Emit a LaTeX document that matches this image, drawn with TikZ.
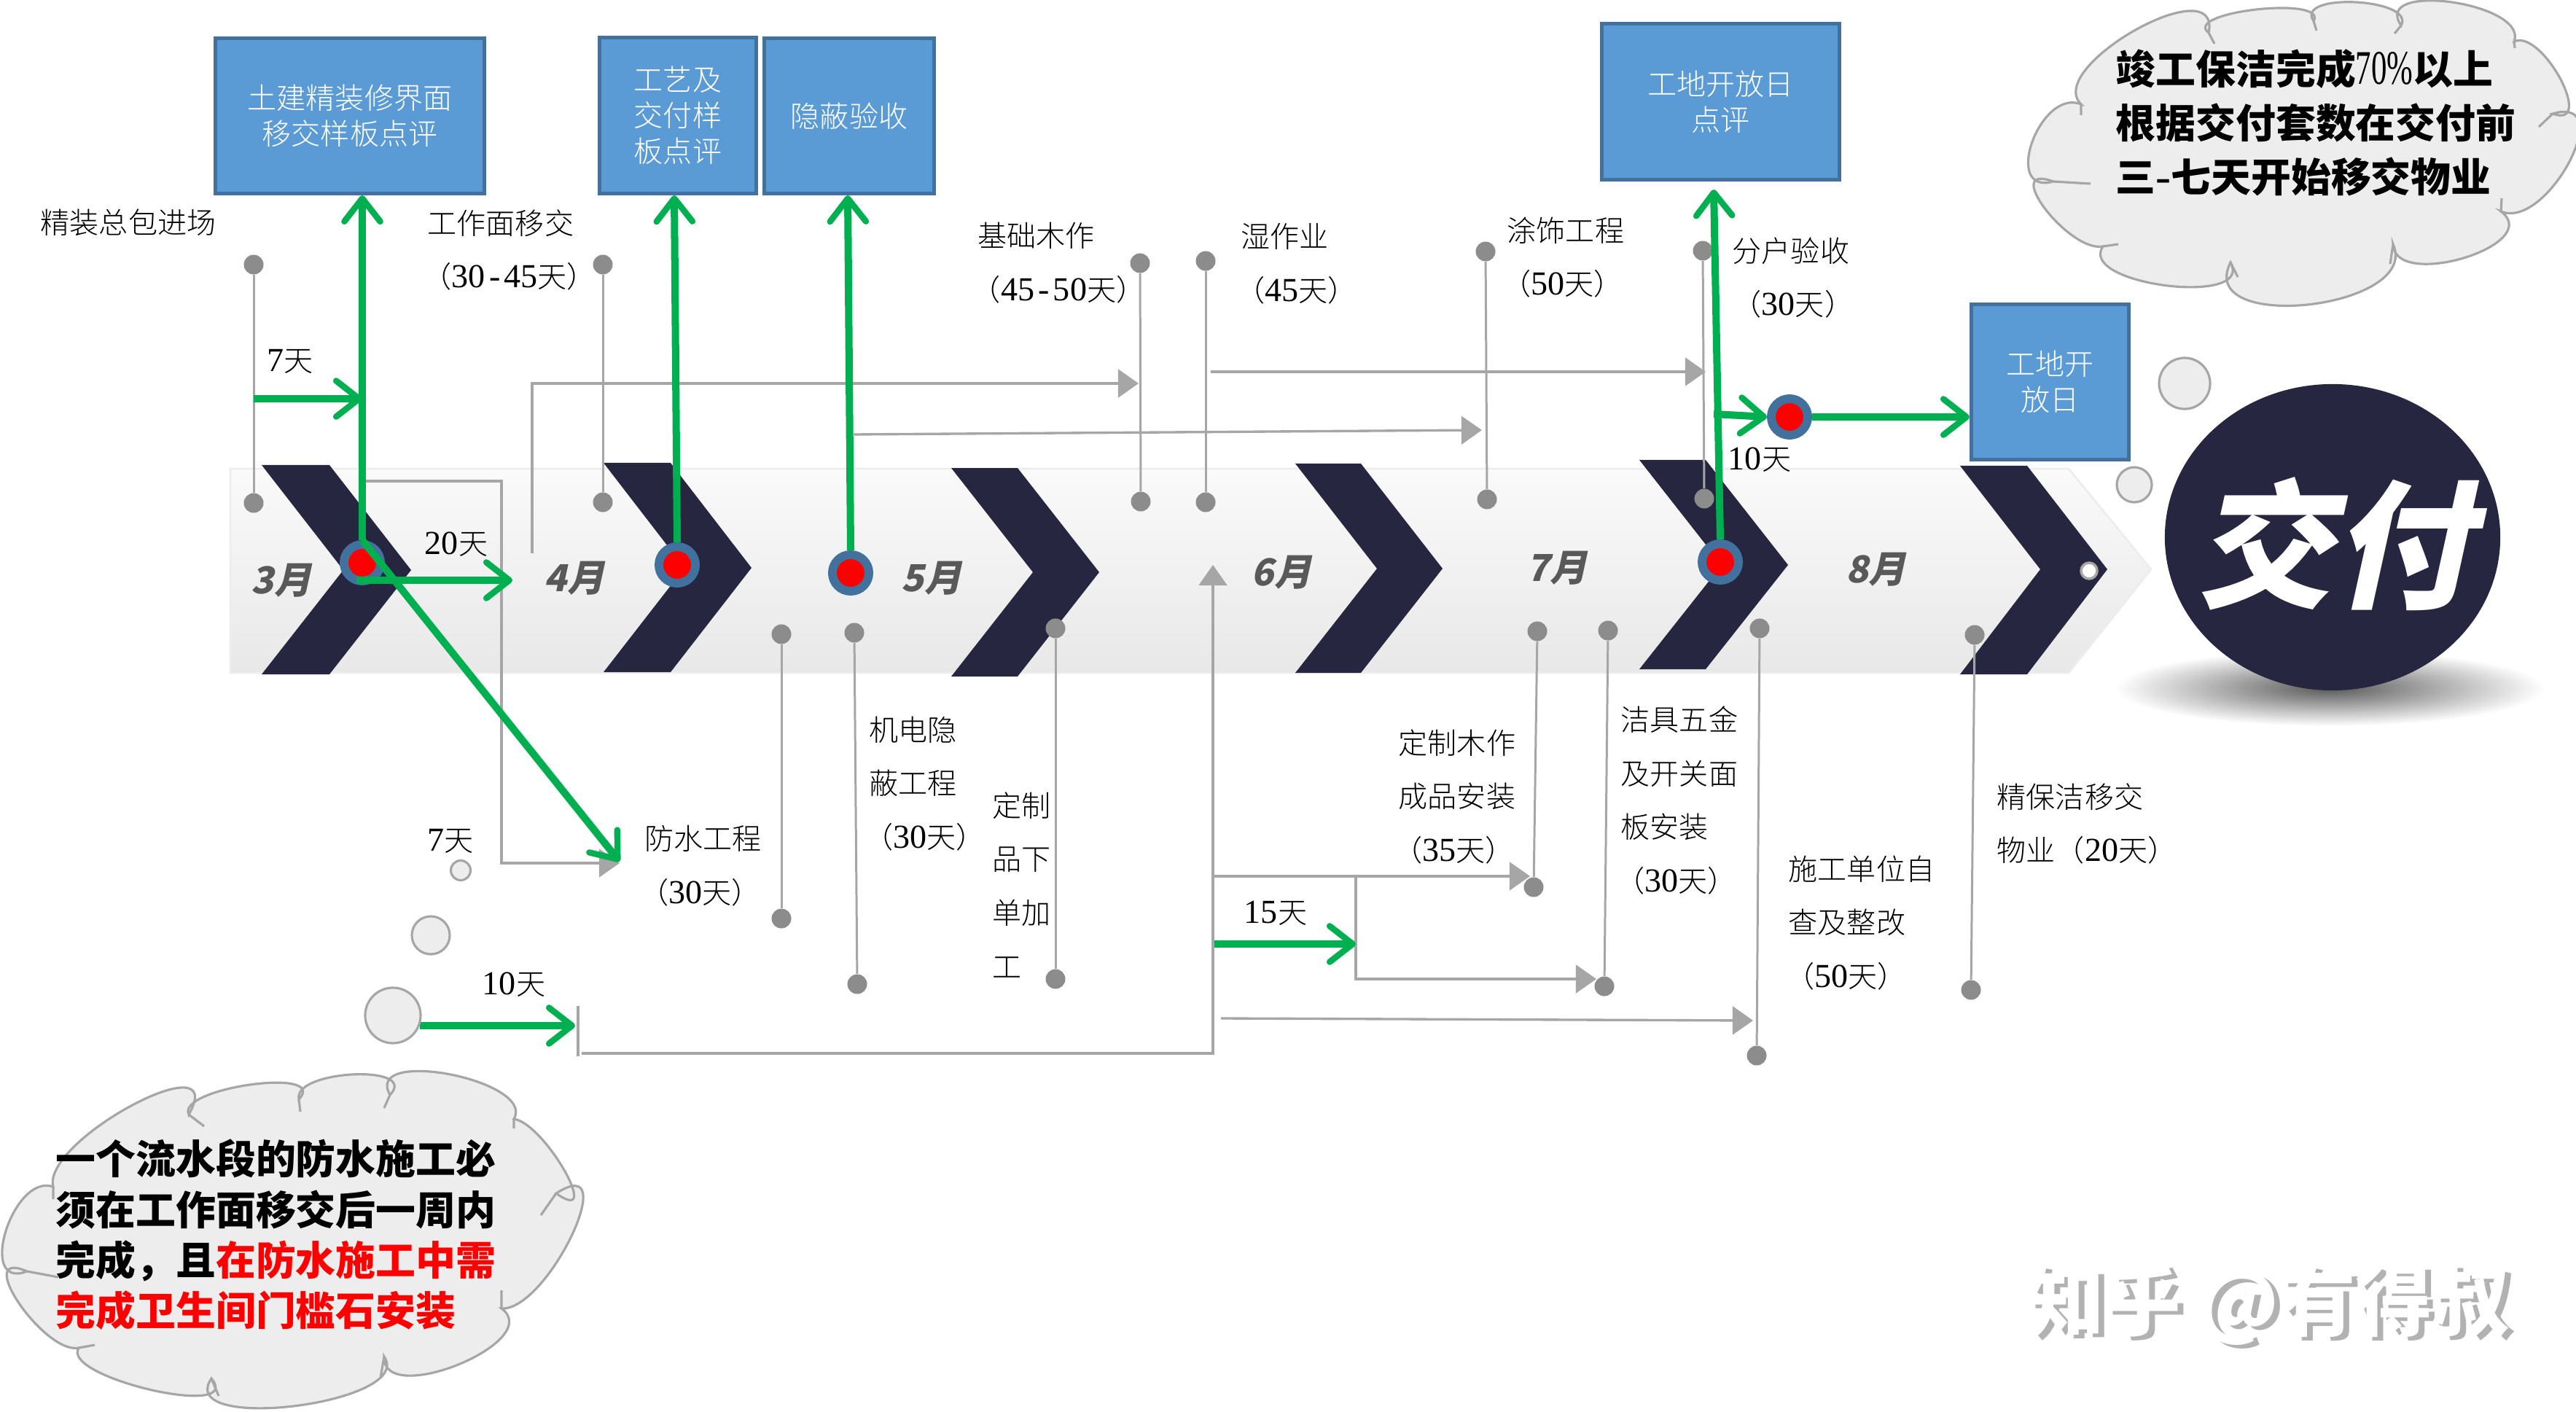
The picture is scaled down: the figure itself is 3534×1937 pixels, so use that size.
\documentclass[tikz,border=0pt]{standalone}
\usepackage{fontspec}
\usetikzlibrary{arrows.meta,shapes.geometric,calc}
\setmainfont{Noto Sans CJK SC}
\newfontfamily\thinf{Noto Sans CJK SC Light}
\newfontfamily\ser[Scale=1.15]{Liberation Serif}
\newcommand{\nm}[1]{{\ser #1}}
\newcommand{\hy}{\kern1.5pt-\kern1.5pt}
\newcommand{\bump}[3]{.. controls ($0.533*(#1)+1.333*(#2)-0.867*(#3)$) and ($0.533*(#3)+1.333*(#2)-0.867*(#1)$) .. (#3)}
\definecolor{navy}{HTML}{262640}
\definecolor{grn}{HTML}{00B050}
\definecolor{boxf}{HTML}{5B9BD5}
\definecolor{boxd}{HTML}{41719C}
\definecolor{gl}{HTML}{A6A6A6}
\definecolor{gd}{HTML}{8C8C8C}
\definecolor{cf}{HTML}{EDEDED}
\definecolor{mon}{HTML}{595959}
\tikzset{
 lab/.style={font=\thinf\fontsize{11.4}{21}\selectfont,inner sep=0pt,align=left,text=black},
 labw/.style={lab,anchor=west},
 blue box/.style={draw=boxd,fill=boxf,line width=1.4pt,inner sep=0pt,text=white,align=center,font=\thinf\fontsize{11.4}{14}\selectfont},
 chev/.style={fill=navy,draw=none},
 mon/.style={font=\fontsize{14.5}{15}\bfseries\selectfont,text=mon,xslant=0.22,transform shape,inner sep=0pt},
 redc/.style={circle,fill=red,draw=boxd,line width=3.4pt,minimum size=0.5cm,inner sep=0pt},
 dotg/.style={circle,fill=gd,draw=none,minimum size=0.27cm,inner sep=0pt},
 stem/.style={draw=gl,line width=0.85pt},
 ga/.style={draw=gl,line width=0.95pt,-{Triangle[length=8pt,width=11pt]}},
 gp/.style={draw=gl,line width=0.95pt},
 gr/.style={draw=grn,line width=2.85pt,-{Straight Barb[length=9pt,width=14pt,line width=2.4pt,round]}},
 cloudp/.style={fill=cf,draw=gl,line width=0.9pt},
 hook/.style={draw=gl,line width=0.9pt},
 bub/.style={ellipse,fill=cf,draw=gl,line width=0.9pt,inner sep=0pt},
 ctext/.style={font=\fontsize{15.6}{21}\bfseries\selectfont,inner sep=0pt,align=left,text=black},
}
\begin{document}
\begin{tikzpicture}[x=0.01cm,y=-0.01cm]
\useasboundingbox (0,0) rectangle (3534,1937);
% band
\path[top color=white!98!black,bottom color=black!9,draw=black!7,line width=0.8pt]
 (316,643)--(2838,643)--(2951,781)--(2838,923)--(316,923)--cycle;
% chevrons
\fill[chev] (359,638)--(452,638)--(564,782)--(452,925)--(359,925)--(471,782)--cycle;
\fill[chev] (828,635)--(920,635)--(1031,779)--(920,922)--(828,922)--(939,779)--cycle;
\fill[chev] (1305,642)--(1396,642)--(1508,785)--(1396,928)--(1305,928)--(1417,785)--cycle;
\fill[chev] (1777,636)--(1867,636)--(1979,780)--(1867,923)--(1777,923)--(1889,780)--cycle;
\fill[chev] (2249,631)--(2340,631)--(2453,775)--(2340,918)--(2249,918)--(2362,775)--cycle;
\fill[chev] (2689,639)--(2781,639)--(2891,781)--(2781,925)--(2689,925)--(2799,781)--cycle;
\node[mon] (m3) at (390,796) {3月};
\node[mon] (m4) at (792,793) {4月};
\node[mon] (m5) at (1282,793) {5月};
\node[mon] (m6) at (1762,785) {6月};
\node[mon] (m7) at (2140,779) {7月};
\node[mon] (m8) at (2577,781) {8月};
% boxes
\node[blue box,minimum width=3.69cm,minimum height=2.13cm] (b1) at (480,159) {土建精装修界面\\移交样板点评};
\node[blue box,minimum width=2.15cm,minimum height=2.14cm] (b2) at (930,158.5) {工艺及\\交付样\\板点评};
\node[blue box,minimum width=2.33cm,minimum height=2.13cm] (b3) at (1165,159) {隐蔽验收};
\node[blue box,minimum width=3.26cm,minimum height=2.14cm] (b4) at (2360.5,139.5) {工地开放日\\点评};
\node[blue box,minimum width=2.16cm,minimum height=2.13cm] (b5) at (2812.5,524) {工地开\\放日};
% stems
\node[dotg] (s1a) at (348,363) {}; \node[dotg] (s1b) at (348,690) {};
\node[dotg] (s2a) at (827,363) {}; \node[dotg] (s2b) at (827,689) {};
\node[dotg] (s3a) at (1564,361) {}; \node[dotg] (s3b) at (1565,688) {};
\node[dotg] (s4a) at (1654,358) {}; \node[dotg] (s4b) at (1654,689) {};
\node[dotg] (s5a) at (2038,345) {}; \node[dotg] (s5b) at (2040,685) {};
\node[dotg] (s6a) at (2336,344) {}; \node[dotg] (s6b) at (2338,684) {};
\node[dotg] (l1a) at (1072,870) {}; \node[dotg] (l1b) at (1072,1260) {};
\node[dotg] (l2a) at (1172,868) {}; \node[dotg] (l2b) at (1176,1350) {};
\node[dotg] (l3a) at (1448,862) {}; \node[dotg] (l3b) at (1448,1343) {};
\node[dotg] (l4a) at (2109,866) {}; \node[dotg] (l4b) at (2104,1217) {};
\node[dotg] (l5a) at (2206,865) {}; \node[dotg] (l5b) at (2201,1353) {};
\node[dotg] (l6a) at (2414,862) {}; \node[dotg] (l6b) at (2410,1448) {};
\node[dotg] (l7a) at (2709,871) {}; \node[dotg] (l7b) at (2704,1358) {};
\foreach \a/\b in {s1a/s1b,s2a/s2b,s3a/s3b,s4a/s4b,s5a/s5b,s6a/s6b,l1a/l1b,l2a/l2b,l3a/l3b,l4a/l4b,l5a/l5b,l6a/l6b,l7a/l7b}
  \draw[stem] (\a) -- (\b);
% free-end coordinates
\coordinate (g1s) at (497,660); \coordinate (g1t) at (850,1184);
\coordinate (g2s) at (730,759); \coordinate (g2t) at (1562,526);
\coordinate (g3s) at (1171,596); \coordinate (g3t) at (2033,590);
\coordinate (g4s) at (1661,510); \coordinate (g4t) at (2340,510);
\coordinate (g5a) at (793,1380); \coordinate (g5b) at (793,1449);
\coordinate (g5s) at (798,1445); \coordinate (g5t) at (1664,775);
\coordinate (g6s) at (1662,1202); \coordinate (g6t) at (2099,1202);
\coordinate (g7a) at (1860,1200); \coordinate (g7t) at (2190,1343);
\coordinate (g8s) at (1675,1397); \coordinate (g8t) at (2405,1400);
\draw[ga] (g1s) -- (688,660) -- (688,1184) -- (g1t);
\draw[ga] (g2s) |- (g2t);
\draw[ga] (g3s) -- (g3t);
\draw[ga] (g4s) -- (g4t);
\draw[gp] (g5a) -- (g5b);
\draw[ga] (g5s) -| (g5t);
\draw[ga] (g6s) -- (g6t);
\draw[ga] (g7a) |- (g7t);
\draw[ga] (g8s) -- (g8t);
% red circles
\node[redc] (c1) at (497,772) {};
\node[redc] (c2) at (929,775) {};
\node[redc] (c3) at (1167,786) {};
\node[redc] (c4) at (2360,771) {};
\node[redc] (c5) at (2455,572) {};
% green arrows
\coordinate (a1t) at (497,268);
\coordinate (a2s) at (348,547); \coordinate (a2t) at (497,547);
\coordinate (a3s) at (489,796); \coordinate (a3t) at (703,796);
\coordinate (a4t) at (850,1182);
\coordinate (a5t) at (925,268);
\coordinate (a6t) at (1163,268);
\coordinate (a7t) at (2351,260);
\coordinate (a8s) at (2351,568);
\coordinate (a10s) at (576,1407); \coordinate (a10t) at (789,1407);
\coordinate (a11s) at (1666,1295); \coordinate (a11t) at (1860,1295);
\draw[gr] (c1.north) -- (a1t);
\draw[gr] (a2s) -- (a2t);
\draw[gr] (a3s) -- (a3t);
\draw[gr] (c1.north) -- (a4t);
\draw[gr] (c2.north) -- (a5t);
\draw[gr] (c3.north) -- (a6t);
\draw[gr] (c4.north) -- (a7t);
\draw[gr] (a8s) -- (c5.west);
\draw[gr] (c5.east) -- (c5.east -| b5.west);
\draw[gr] (a10s) -- (a10t);
\draw[gr] (a11s) -- (a11t);
% labels
\node[lab] (t1) at (176,305) {精装总包进场};
\node[labw] (t2) at (586,343) {工作面移交\\\hspace*{-2pt}（\nm{30\hy45}天）};
\node[lab] (t3) at (398,496) {\nm{7}天};
\node[lab] (t4) at (626,747) {\nm{20}天};
\node[labw] (t5) at (1341,361) {基础木作\\\hspace*{-2.5pt}（\nm{45\hy50}天）};
\node[labw] (t6) at (1702,362) {湿作业\\\hspace*{-2pt}（\nm{45}天）};
\node[labw] (t7) at (2067,353) {涂饰工程\\\hspace*{-2pt}（\nm{50}天）};
\node[labw] (t8) at (2376,381) {分户验收\\（\nm{30}天）};
\node[lab] (t9) at (2414,631) {\nm{10}天};
\node[labw] (t10) at (884,1188) {防水工程\\\hspace*{-2pt}（\nm{30}天）};
\node[lab] (t11) at (618,1154) {\nm{7}天};
\node[lab] (t12) at (705,1351) {\nm{10}天};
\node[labw] (t13) at (1192,1075) {机电隐\\蔽工程\\\hspace*{-2pt}（\nm{30}天）};
\node[labw] (t14) at (1361,1214) {定制\\品下\\单加\\工};
\node[labw] (t15) at (1918,1093) {定制木作\\成品安装\\\hspace*{-2pt}（\nm{35}天）};
\node[labw] (t16) at (2223,1098) {洁具五金\\及开关面\\板安装\\\hspace*{-2pt}（\nm{30}天）};
\node[labw] (t17) at (2453,1266) {施工单位自\\查及整改\\\hspace*{-1.2pt}（\nm{50}天）};
\node[labw] (t18) at (2739,1130) {精保洁移交\\物业（\nm{20}天）};
\node[lab] (t19) at (1750,1253) {\nm{15}天};
% upper-right cloud
\path[cloudp] (2855,143) \bump{2855,143}{2932,41}{3030,45} \bump{3030,45}{3098,13}{3174,29}
 \bump{3174,29}{3234,3}{3294,35} \bump{3294,35}{3366,3}{3449,57} \bump{3449,57}{3515,108}{3502,156}
 \bump{3502,156}{3527,223}{3431,290} \bump{3431,290}{3383,354}{3283,335} \bump{3283,335}{3170,418}{3060,360}
 \bump{3060,360}{2974,392}{2885,338} \bump{2885,338}{2808,287}{2817,249} \bump{2817,249}{2790,195}{2855,143} -- cycle;
\draw[hook] (3030,45)--(3038,60) (3174,29)--(3178,42) (3294,35)--(3285,46) (3449,57)--(3450,66)
 (3502,156)--(3483,174) (3431,290)--(3432,272) (3283,335)--(3279,362) (3060,360)--(3070,380)
 (2885,338)--(2906,335) (2817,249)--(2868,252) (2855,143)--(2855,158);
\node[ctext,anchor=west] (ct1) at (2902,168) {竣工保洁完成{\ser\mdseries\scalebox{0.68}[1.05]{70\%}}以上\\根据交付套数在交付前\\三{\ser\mdseries -}七天开始移交物业};
% lower-left cloud
\path[cloudp] (73,1628) \bump{73,1628}{182,1517}{259,1529} \bump{259,1529}{344,1489}{410,1508}
 \bump{410,1508}{485,1475}{535,1502} \bump{535,1502}{618,1475}{705,1535} \bump{705,1535}{775,1607}{763,1637}
 \bump{763,1637}{785,1696}{688,1795} \bump{688,1795}{630,1873}{527,1861} \bump{527,1861}{406,1930}{290,1891}
 \bump{290,1891}{207,1908}{108,1849} \bump{108,1849}{26,1789}{37,1744} \bump{37,1744}{8,1690}{73,1628} -- cycle;
\draw[hook] (259,1529)--(280,1545) (410,1508)--(412,1525) (535,1502)--(527,1520) (705,1535)--(705,1548)
 (763,1637)--(742,1667) (688,1795)--(688,1770) (527,1861)--(522,1890) (290,1891)--(300,1915)
 (108,1849)--(130,1845) (37,1744)--(80,1752) (73,1628)--(73,1645);
\node[ctext,anchor=west,font=\fontsize{15.6}{19.7}\bfseries\selectfont] (ct2) at (76,1694) {一个流水段的防水施工必\\须在工作面移交后一周内\\完成，且\textcolor{red}{在防水施工中需}\\\textcolor{red}{完成卫生间门槛石安装}};
% bubbles
\node[bub,minimum width=0.27cm,minimum height=0.27cm] (bu1) at (632,1194) {};
\node[bub,minimum width=0.52cm,minimum height=0.52cm] (bu2) at (591,1283) {};
\node[bub,minimum width=0.76cm,minimum height=0.76cm] (bu3) at (539,1393) {};
\node[bub,minimum width=0.7cm,minimum height=0.7cm] (bu4) at (2997,526) {};
\node[bub,minimum width=0.48cm,minimum height=0.48cm] (bu5) at (2928,665) {};
\node[circle,fill=white,draw=gl,line width=1pt,minimum size=0.22cm,inner sep=0pt] (wd) at (2866,783) {};
% delivery
\path[inner color=black!65,outer color=white] (3196,944) ellipse (295 and 52);
\node[ellipse,fill=navy,minimum width=4.6cm,minimum height=4.2cm,inner sep=0pt] (deliv) at (3200,737) {};
\node[font=\fontsize{54}{56}\bfseries\selectfont,text=white,xslant=0.22,transform shape,inner sep=0pt] (dt) at (3217,746) {交付};
% watermark
\node[font=\fontsize{30}{32}\bfseries\selectfont,text=black!30,inner sep=0pt] (wms) at (3120,1795) {知乎 @有得叔};
\node[font=\fontsize{30}{32}\bfseries\selectfont,text=white,inner sep=0pt] (wm) at (3112,1790) {知乎 @有得叔};
\end{tikzpicture}
\end{document}
